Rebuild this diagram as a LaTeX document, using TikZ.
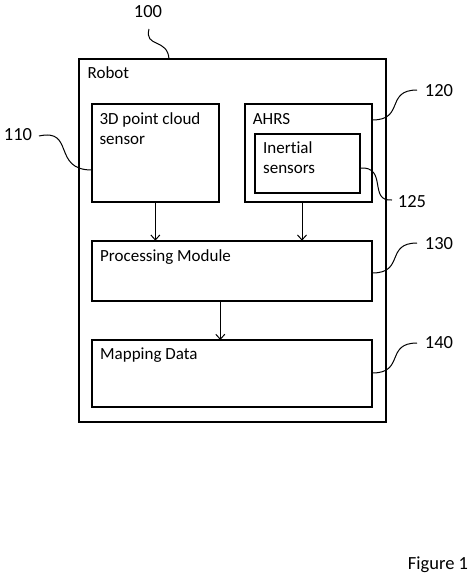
\documentclass[tikz,border=0pt]{standalone}
\usepackage{fontspec}
\setmainfont{Carlito}[Ligatures=CommonOff]
\usetikzlibrary{arrows.meta}
\begin{document}
\begin{tikzpicture}[x=1pt,y=-1pt,
  box/.style={draw,line width=2.2pt,minimum width=#1,anchor=north west,inner sep=0pt,outer sep=0pt},
  txt/.style={anchor=base west,inner sep=0pt,font=\fontsize{17}{20}\selectfont},
  lbl/.style={inner sep=0pt,font=\fontsize{18.5}{22}\selectfont},
  arr/.style={line width=1pt,-{Straight Barb[length=5pt,width=9pt,line width=1pt]}},
  lead/.style={line width=1pt}]
\useasboundingbox (0,0) rectangle (474,579);
\node[box=307pt,minimum height=363pt] (robot) at (78.7,59.3) {};
\node[box=127.3pt,minimum height=98pt] (sensor) at (91.7,104) {};
\node[box=127.3pt,minimum height=98pt] (ahrs) at (245,104) {};
\node[box=105pt,minimum height=59pt] (inertial) at (255,134) {};
\node[box=280.6pt,minimum height=60.3pt] (proc) at (91.7,240.7) {};
\node[box=280.6pt,minimum height=67pt] (map) at (91.7,340) {};
\node[txt] (trobot) at (87.5,78) {Robot};
\node[txt] (tsensor1) at (99.3,124) {3D point cloud};
\node[txt] (tsensor2) at (99.3,144) {sensor};
\node[txt] (tahrs) at (252.7,124) {AHRS};
\node[txt] (tin1) at (263,153) {Inertial};
\node[txt] (tin2) at (263,173) {sensors};
\node[txt] (tproc) at (100,261) {Processing Module};
\node[txt] (tmap) at (100,359) {Mapping Data};
\draw[arr] (sensor.south) -- (sensor.south |- proc.north);
\draw[arr] (ahrs.south -| 302,0) -- (proc.north -| 302,0);
\draw[arr] (proc.south -| 220.3,0) -- (map.north -| 220.3,0);
\node[lbl] (l100) at (148,12) {100};
\node[lbl] (l110) at (18,135) {110};
\node[lbl] (l120) at (439,91) {120};
\node[lbl] (l125) at (412,202) {125};
\node[lbl] (l130) at (439,244) {130};
\node[lbl] (l140) at (439,343) {140};
\node[lbl,anchor=center] (fig) at (438,565) {Figure 1};
\coordinate (e100) at (169,59.3);
\coordinate (e110) at (91.7,170);
\coordinate (e120) at (372.3,120);
\coordinate (e125) at (360,168);
\coordinate (e130) at (372.3,273);
\coordinate (e140) at (372.3,373);
\draw[lead] (149,29) .. controls (144,48) and (168,38) .. (e100);
\draw[lead] (39,136) .. controls (75,128) and (52,170) .. (e110);
\draw[lead] (417,90) .. controls (385,90) and (405,120) .. (e120);
\draw[lead] (e125) .. controls (388,166) and (368,202) .. (392,200);
\draw[lead] (417,243) .. controls (385,243) and (405,273) .. (e130);
\draw[lead] (417,343) .. controls (385,343) and (405,373) .. (e140);
\end{tikzpicture}
\end{document}
